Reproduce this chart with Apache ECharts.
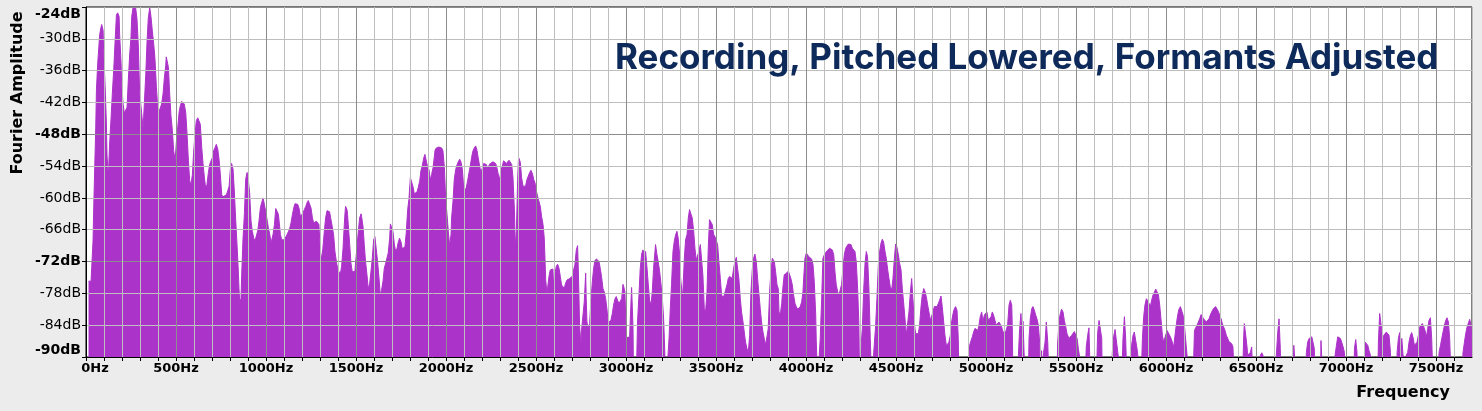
<!DOCTYPE html>
<html><head><meta charset="utf-8">
<script src="https://cdn.jsdelivr.net/npm/echarts@6/dist/echarts.min.js"></script>
<style>html,body{margin:0;padding:0;background:#ECECEC;}#c{width:1482px;height:411px;}</style>
</head><body><div id="c"></div>
<script>
// [frequency Hz, amplitude dB]; values below -90 dB fall outside the plot
const band0to1280 = [[14,-75.7],[28,-75.7],[32,-72.9],[39,-68.1],[43,-61.6],[54,-46.8],[58,-39.6],[65,-34.7],[72,-31.2],[76,-29.2],[83,-27.9],[87,-27.3],[95,-28.4],[98,-32.2],[106,-38.8],[113,-45.6],[117,-52.1],[124,-55.9],[132,-49.2],[139,-45.1],[146,-40.5],[154,-35.8],[161,-30.9],[169,-25.5],[176,-25.1],[184,-25.8],[187,-29.3],[195,-34.7],[198,-38.5],[206,-42.3],[213,-44.0],[221,-43.7],[228,-42.9],[235,-37.8],[243,-32.8],[250,-29.6],[254,-25.8],[261,-24.2],[269,-23.8],[276,-24.2],[283,-26.1],[291,-31.5],[298,-40.1],[309,-43.9],[317,-47.0],[324,-42.3],[332,-36.7],[339,-30.6],[346,-26.1],[354,-24.1],[361,-25.8],[369,-28.7],[376,-30.9],[383,-33.7],[391,-39.0],[398,-42.8],[406,-43.7],[413,-43.5],[420,-42.3],[428,-40.4],[435,-37.5],[443,-35.0],[446,-33.4],[450,-33.5],[458,-35.4],[465,-40.4],[472,-44.5],[480,-47.3],[487,-51.1],[495,-52.9],[502,-49.5],[509,-47.0],[517,-43.9],[524,-42.6],[532,-41.8],[539,-41.5],[546,-42.3],[554,-43.9],[561,-47.7],[569,-53.0],[576,-56.7],[583,-57.6],[591,-55.6],[598,-51.4],[606,-47.8],[613,-45.4],[621,-44.9],[628,-45.1],[635,-46.1],[643,-50.5],[650,-53.5],[658,-56.2],[665,-58.2],[672,-57.5],[680,-55.2],[687,-53.7],[695,-53.0],[702,-52.4],[709,-51.1],[717,-50.5],[724,-49.9],[732,-50.8],[739,-52.7],[746,-55.4],[754,-59.4],[761,-59.8],[772,-59.8],[780,-59.4],[787,-58.7],[795,-57.8],[802,-54.6],[809,-53.5],[817,-54.6],[824,-58.7],[832,-64.4],[839,-68.8],[846,-73.6],[850,-77.1],[854,-79.5],[861,-79.0],[865,-74.5],[872,-67.9],[880,-63.0],[887,-56.5],[895,-55.2],[902,-56.7],[909,-59.0],[917,-64.4],[924,-66.3],[932,-67.6],[939,-68.1],[947,-67.8],[954,-66.2],[961,-64.4],[969,-61.8],[976,-60.9],[984,-60.0],[991,-60.1],[998,-62.5],[1006,-64.1],[1013,-65.6],[1021,-66.9],[1028,-68.5],[1032,-68.7],[1039,-66.9],[1047,-65.0],[1054,-62.0],[1061,-62.2],[1069,-63.1],[1072,-64.1],[1080,-66.9],[1087,-67.9],[1095,-68.2],[1102,-67.9],[1109,-67.6],[1117,-66.9],[1124,-66.4],[1132,-65.7],[1139,-64.7],[1147,-63.1],[1154,-61.9],[1161,-61.1],[1169,-60.9],[1176,-61.2],[1184,-62.0],[1191,-63.5],[1198,-63.7],[1206,-62.8],[1213,-62.2],[1221,-61.6],[1228,-60.9],[1235,-60.5],[1243,-60.6],[1250,-61.9],[1258,-63.8],[1265,-64.7],[1272,-65.0]];
const band1280to2565 = [[1280,-64.4],[1287,-64.3],[1294,-65.0],[1302,-70.1],[1309,-71.5],[1316,-69.5],[1324,-66.3],[1331,-63.8],[1339,-62.4],[1346,-62.2],[1353,-62.6],[1361,-64.1],[1368,-65.4],[1376,-67.1],[1383,-70.1],[1391,-72.0],[1398,-73.3],[1405,-73.9],[1413,-74.4],[1420,-72.9],[1428,-69.5],[1435,-65.0],[1439,-62.8],[1442,-61.6],[1450,-62.2],[1453,-63.1],[1457,-65.0],[1465,-68.8],[1472,-72.3],[1479,-73.9],[1487,-74.2],[1494,-73.9],[1498,-72.0],[1505,-69.5],[1513,-66.3],[1520,-63.8],[1528,-63.0],[1531,-63.5],[1539,-65.4],[1546,-68.8],[1553,-72.0],[1561,-74.5],[1568,-77.2],[1576,-76.1],[1583,-73.9],[1591,-71.2],[1594,-69.8],[1598,-67.9],[1605,-67.3],[1613,-67.6],[1620,-72.0],[1628,-75.2],[1635,-78.3],[1642,-77.4],[1650,-75.7],[1657,-73.3],[1665,-72.3],[1672,-72.0],[1679,-70.4],[1687,-67.6],[1691,-64.9],[1698,-64.7],[1705,-66.3],[1713,-68.7],[1720,-70.1],[1728,-69.5],[1735,-68.3],[1742,-67.6],[1750,-68.3],[1757,-69.6],[1765,-69.8],[1772,-69.2],[1779,-66.6],[1787,-62.2],[1794,-60.3],[1802,-56.2],[1809,-56.1],[1816,-57.8],[1824,-59.2],[1831,-59.4],[1839,-58.9],[1846,-58.0],[1854,-56.8],[1861,-54.8],[1868,-54.0],[1876,-52.5],[1883,-51.8],[1891,-51.6],[1898,-54.2],[1905,-54.6],[1913,-56.6],[1920,-55.6],[1928,-54.3],[1935,-52.3],[1939,-51.0],[1946,-50.6],[1953,-50.6],[1961,-50.4],[1968,-50.4],[1976,-50.6],[1983,-51.1],[1991,-54.3],[1998,-59.9],[2005,-60.0],[2013,-66.3],[2020,-69.0],[2028,-66.9],[2031,-63.8],[2039,-60.6],[2046,-56.5],[2054,-54.6],[2061,-53.8],[2068,-53.2],[2076,-52.7],[2083,-53.2],[2091,-54.6],[2098,-58.0],[2105,-58.7],[2113,-58.0],[2120,-56.8],[2128,-55.2],[2135,-54.0],[2142,-52.4],[2150,-51.1],[2157,-50.6],[2165,-50.2],[2172,-51.0],[2179,-52.5],[2187,-54.0],[2194,-55.2],[2202,-54.3],[2209,-53.5],[2217,-53.2],[2224,-53.7],[2231,-54.3],[2239,-54.0],[2246,-53.5],[2254,-53.2],[2261,-53.2],[2268,-53.3],[2276,-53.5],[2283,-54.3],[2291,-55.7],[2298,-56.5],[2305,-54.8],[2313,-54.0],[2320,-53.0],[2328,-52.7],[2335,-53.5],[2342,-53.2],[2350,-52.9],[2357,-52.7],[2365,-53.7],[2372,-56.1],[2380,-62.2],[2383,-66.3],[2387,-69.5],[2391,-66.3],[2398,-56.7],[2402,-53.0],[2405,-52.5],[2413,-53.3],[2420,-56.2],[2428,-57.8],[2435,-58.0],[2442,-57.8],[2450,-56.5],[2457,-55.9],[2465,-55.2],[2472,-54.8],[2480,-55.4],[2487,-56.5],[2494,-57.1],[2502,-58.7],[2509,-59.7],[2516,-60.6],[2524,-61.6],[2531,-63.5],[2539,-65.0],[2546,-67.6],[2554,-75.5],[2561,-78.0]];
const band2565to3845 = [[2565,-78.0],[2572,-74.8],[2579,-73.6],[2587,-73.4],[2594,-73.4],[2598,-76.4],[2605,-74.2],[2613,-72.9],[2620,-72.5],[2628,-73.3],[2635,-74.8],[2642,-76.4],[2650,-76.4],[2657,-77.1],[2664,-76.1],[2672,-75.5],[2679,-75.2],[2687,-75.2],[2694,-75.2],[2701,-74.8],[2709,-73.6],[2716,-72.6],[2724,-69.8],[2731,-69.0],[2735,-73.3],[2739,-79.0],[2742,-84.0],[2750,-87.8],[2753,-85.0],[2761,-85.0],[2768,-79.6],[2772,-76.9],[2776,-74.2],[2779,-79.0],[2783,-83.4],[2790,-84.5],[2798,-83.7],[2805,-79.5],[2813,-75.8],[2820,-73.3],[2827,-71.9],[2835,-71.5],[2842,-71.5],[2850,-72.0],[2857,-73.3],[2864,-74.8],[2872,-77.1],[2879,-77.7],[2887,-79.0],[2894,-80.9],[2901,-83.5],[2909,-83.7],[2916,-83.1],[2924,-81.8],[2931,-80.2],[2939,-79.0],[2946,-78.6],[2953,-79.3],[2961,-79.9],[2968,-80.2],[2976,-79.0],[2983,-76.3],[2987,-76.7],[2994,-77.7],[3002,-86.4],[3009,-86.2],[3020,-86.2],[3027,-80.2],[3031,-76.9],[3035,-80.5],[3039,-84.6],[3042,-95],[3057,-95],[3064,-83.4],[3072,-78.3],[3079,-73.3],[3087,-70.6],[3094,-69.8],[3102,-70.6],[3109,-70.1],[3116,-72.9],[3124,-76.4],[3131,-79.3],[3139,-80.1],[3146,-77.7],[3153,-73.3],[3161,-70.1],[3164,-68.8],[3172,-70.7],[3179,-72.0],[3187,-73.9],[3194,-76.1],[3202,-79.0],[3209,-82.8],[3213,-86.5],[3216,-89.7],[3224,-95],[3231,-95],[3239,-86.5],[3246,-80.9],[3253,-76.3],[3261,-70.1],[3268,-68.2],[3276,-66.9],[3283,-66.3],[3290,-67.6],[3298,-70.7],[3302,-74.4],[3305,-75.8],[3313,-78.3],[3316,-77.7],[3324,-71.4],[3331,-67.9],[3339,-66.9],[3346,-63.8],[3353,-62.2],[3361,-62.0],[3368,-63.8],[3376,-66.3],[3383,-69.5],[3390,-71.7],[3398,-71.4],[3405,-70.1],[3413,-68.8],[3420,-68.7],[3427,-74.5],[3435,-80.9],[3442,-81.5],[3450,-77.7],[3457,-69.5],[3464,-64.1],[3472,-63.8],[3479,-65.0],[3487,-66.9],[3494,-67.3],[3502,-67.1],[3509,-68.8],[3516,-72.0],[3524,-75.2],[3531,-78.3],[3539,-78.8],[3546,-78.3],[3553,-77.4],[3561,-76.4],[3568,-75.2],[3576,-74.8],[3583,-74.8],[3590,-75.2],[3598,-73.3],[3605,-72.0],[3613,-71.2],[3620,-73.3],[3627,-75.2],[3635,-79.0],[3642,-81.5],[3650,-83.4],[3657,-85.3],[3664,-87.2],[3672,-88.4],[3679,-89.2],[3687,-85.9],[3694,-77.7],[3702,-73.3],[3709,-71.4],[3716,-70.6],[3724,-72.0],[3731,-75.2],[3739,-78.3],[3746,-80.9],[3753,-83.4],[3761,-85.3],[3768,-86.5],[3776,-87.7],[3783,-87.9],[3790,-84.7],[3798,-77.7],[3805,-73.9],[3813,-71.4],[3816,-71.2],[3824,-72.0],[3831,-73.9],[3839,-76.4]];
const band3845to5120 = [[3846,-77.1],[3850,-81.5],[3857,-82.1],[3865,-79.9],[3872,-76.7],[3879,-74.5],[3891,-74.2],[3902,-73.8],[3909,-73.9],[3916,-75.2],[3924,-76.4],[3931,-78.3],[3939,-79.9],[3946,-80.5],[3954,-81.0],[3961,-81.0],[3968,-80.5],[3976,-79.6],[3983,-77.7],[3987,-75.2],[3994,-71.4],[4002,-70.4],[4009,-70.6],[4016,-71.1],[4024,-71.4],[4031,-71.5],[4039,-72.6],[4046,-75.8],[4054,-82.1],[4057,-86.9],[4065,-95],[4072,-95],[4079,-86.5],[4087,-79.0],[4094,-71.4],[4102,-70.7],[4109,-70.4],[4116,-70.0],[4124,-69.8],[4131,-69.5],[4139,-69.2],[4146,-69.8],[4154,-70.7],[4161,-73.9],[4168,-76.4],[4176,-77.7],[4183,-78.3],[4191,-78.3],[4198,-76.3],[4205,-73.3],[4213,-70.7],[4220,-69.5],[4228,-69.2],[4235,-68.7],[4242,-68.5],[4250,-68.8],[4257,-69.5],[4265,-69.8],[4272,-70.1],[4279,-72.0],[4287,-77.1],[4294,-84.0],[4298,-95],[4305,-88.4],[4313,-84.6],[4320,-77.7],[4328,-72.3],[4335,-70.1],[4342,-71.1],[4350,-77.4],[4357,-86.5],[4365,-95],[4372,-95],[4379,-87.8],[4387,-84.0],[4394,-79.0],[4402,-72.6],[4409,-70.1],[4417,-68.5],[4424,-67.8],[4431,-68.3],[4439,-70.1],[4446,-71.4],[4454,-73.6],[4461,-75.2],[4468,-76.7],[4476,-77.4],[4483,-75.2],[4491,-71.4],[4498,-68.7],[4505,-69.3],[4513,-70.7],[4520,-72.3],[4528,-73.6],[4535,-77.1],[4542,-79.6],[4550,-82.8],[4557,-85.9],[4565,-85.9],[4572,-81.5],[4580,-77.7],[4587,-75.2],[4594,-79.0],[4602,-83.7],[4609,-85.6],[4617,-85.8],[4624,-85.6],[4631,-84.0],[4639,-80.5],[4646,-78.3],[4654,-77.1],[4661,-77.6],[4668,-78.6],[4676,-80.2],[4683,-81.5],[4691,-83.1],[4698,-83.4],[4705,-81.5],[4713,-80.5],[4720,-80.4],[4728,-80.5],[4735,-79.9],[4742,-79.3],[4750,-78.5],[4757,-80.5],[4765,-83.4],[4772,-85.9],[4780,-87.9],[4787,-88.1],[4794,-87.2],[4802,-85.9],[4809,-83.4],[4817,-81.8],[4824,-80.9],[4831,-80.5],[4839,-81.2],[4846,-86.5],[4850,-95],[4902,-95],[4909,-87.8],[4917,-86.9],[4924,-86.2],[4931,-85.3],[4939,-84.6],[4946,-84.5],[4954,-85.0],[4961,-84.0],[4968,-82.4],[4976,-81.5],[4983,-83.3],[4991,-82.1],[4998,-82.0],[5005,-81.5],[5013,-83.1],[5020,-83.4],[5028,-82.4],[5035,-81.5],[5042,-82.1],[5050,-83.1],[5057,-84.0],[5065,-83.9],[5072,-83.4],[5079,-83.1],[5087,-84.3],[5094,-85.3],[5102,-85.6],[5109,-85.3],[5116,-85.6]];
const band5120to6380 = [[5120,-84.0],[5128,-80.2],[5135,-79.3],[5143,-80.2],[5146,-84.3],[5150,-95],[5176,-95],[5180,-89.7],[5187,-84.6],[5194,-81.8],[5198,-84.3],[5206,-83.3],[5209,-86.5],[5217,-95],[5235,-95],[5239,-86.5],[5246,-82.8],[5254,-80.9],[5261,-80.5],[5269,-81.2],[5276,-82.1],[5283,-82.8],[5291,-84.0],[5298,-87.2],[5302,-95],[5309,-88.8],[5313,-95],[5320,-89.1],[5328,-87.2],[5335,-83.4],[5343,-87.2],[5350,-95],[5394,-95],[5398,-87.5],[5406,-83.1],[5413,-81.8],[5420,-81.0],[5428,-81.5],[5435,-83.1],[5443,-84.3],[5450,-85.6],[5461,-86.5],[5469,-86.5],[5476,-85.9],[5483,-85.6],[5491,-85.2],[5498,-85.0],[5506,-86.5],[5513,-88.4],[5520,-90.0],[5528,-95],[5550,-95],[5557,-88.1],[5565,-85.9],[5572,-84.5],[5580,-95],[5613,-95],[5620,-85.6],[5628,-83.1],[5635,-82.9],[5643,-86.5],[5646,-95],[5694,-95],[5702,-89.1],[5709,-86.2],[5717,-84.8],[5724,-84.5],[5732,-89.1],[5754,-95],[5761,-86.5],[5769,-82.4],[5776,-86.5],[5783,-95],[5802,-95],[5809,-87.8],[5817,-85.9],[5824,-85.3],[5832,-85.6],[5839,-88.4],[5861,-95],[5869,-86.5],[5876,-82.4],[5883,-80.2],[5891,-79.0],[5898,-79.3],[5906,-79.9],[5913,-80.5],[5920,-79.3],[5928,-78.3],[5935,-77.8],[5943,-77.2],[5950,-77.7],[5958,-78.3],[5965,-80.2],[5972,-82.8],[5980,-85.9],[5987,-87.2],[5998,-86.9],[6006,-85.0],[6013,-85.3],[6020,-85.9],[6028,-86.5],[6035,-87.2],[6043,-88.1],[6050,-85.9],[6058,-83.7],[6065,-82.1],[6072,-81.0],[6080,-80.5],[6087,-80.5],[6095,-82.1],[6102,-84.0],[6109,-84.0],[6117,-89.7],[6124,-95],[6150,-95],[6158,-85.0],[6165,-84.5],[6172,-84.0],[6180,-83.4],[6187,-82.8],[6195,-82.0],[6202,-82.1],[6209,-82.8],[6217,-83.1],[6224,-83.4],[6232,-83.3],[6239,-82.8],[6246,-82.1],[6254,-81.5],[6261,-81.0],[6269,-80.7],[6276,-80.5],[6283,-80.7],[6291,-81.4],[6298,-82.1],[6306,-82.8],[6313,-83.7],[6320,-84.3],[6328,-85.0],[6335,-85.9],[6343,-86.5],[6350,-87.1],[6358,-87.2],[6365,-87.5],[6372,-88.1],[6380,-95]];
const band6380to7710 = [[6424,-95],[6432,-85.9],[6435,-83.7],[6439,-83.7],[6443,-85.9],[6450,-88.1],[6454,-89.7],[6461,-90.0],[6469,-89.1],[6476,-88.1],[6480,-87.8],[6484,-95],[6521,-95],[6524,-89.7],[6532,-89.2],[6539,-89.7],[6547,-95],[6610,-95],[6613,-89.7],[6621,-85.3],[6628,-82.8],[6635,-88.4],[6639,-95],[6706,-95],[6710,-87.8],[6717,-88.1],[6724,-95],[6776,-95],[6780,-89.1],[6787,-87.2],[6795,-86.5],[6802,-86.4],[6810,-86.2],[6817,-86.4],[6824,-88.4],[6828,-95],[6858,-95],[6861,-86.9],[6868,-86.9],[6872,-95],[6935,-95],[6939,-89.7],[6947,-87.8],[6954,-86.2],[6961,-86.0],[6969,-86.5],[6976,-87.2],[6984,-88.1],[6991,-89.1],[6998,-95],[7043,-95],[7047,-88.4],[7054,-86.7],[7061,-89.1],[7065,-95],[7102,-95],[7106,-87.2],[7113,-87.3],[7121,-87.8],[7128,-88.8],[7136,-89.7],[7143,-95],[7176,-95],[7180,-87.2],[7187,-81.8],[7195,-82.1],[7202,-85.9],[7206,-86.5],[7210,-85.9],[7217,-85.6],[7224,-85.3],[7232,-85.2],[7239,-85.9],[7247,-89.1],[7250,-95],[7280,-95],[7284,-89.1],[7291,-86.5],[7298,-85.4],[7306,-87.8],[7310,-86.5],[7317,-89.7],[7328,-90.2],[7336,-90.0],[7343,-89.1],[7350,-87.2],[7358,-85.9],[7365,-85.4],[7373,-86.4],[7380,-87.8],[7387,-87.9],[7395,-87.2],[7402,-85.9],[7410,-84.3],[7417,-84.0],[7424,-83.7],[7432,-84.3],[7439,-85.0],[7447,-86.2],[7454,-84.6],[7461,-83.1],[7469,-82.6],[7476,-86.5],[7484,-95],[7510,-95],[7517,-89.1],[7525,-87.8],[7532,-86.5],[7539,-85.3],[7547,-84.0],[7554,-83.1],[7561,-82.6],[7569,-83.4],[7576,-86.5],[7584,-95],[7643,-95],[7650,-89.1],[7658,-87.2],[7665,-85.6],[7673,-84.3],[7680,-84.0],[7687,-82.9],[7695,-84.0],[7702,-89.1],[7710,-89.7]];

const boldDbTicks = [-24, -48, -72, -90];
const chartTitle = 'Recording, Pitched Lowered, Formants Adjusted';
const xAxisName = 'Frequency';
const yAxisName = 'Fourier Amplitude';

const spectrum = [].concat(band0to1280, band1280to2565, band2565to3845, band3845to5120, band5120to6380, band6380to7710);

const chart = echarts.init(document.getElementById('c'), null, {renderer: 'canvas'});
const FILL = '#AC33C9';
chart.setOption({
  animation: false,
  backgroundColor: '#ECECEC',
  grid: {left: 86, top: 7, width: 1386, height: 350, show: true, backgroundColor: '#FFFFFF', borderColor: '#000000', borderWidth: 1, containLabel: false},
  xAxis: {
    type: 'value', min: 0, max: 7700, interval: 100, z: 3,
    axisLine: {show: true, onZero: false, lineStyle: {color: '#000', width: 1}},
    axisTick: {show: true, length: 4, lineStyle: {color: '#000'}},
    splitLine: {show: true, lineStyle: {color: ['#8c8c8c', '#bebebe', '#bebebe', '#bebebe', '#bebebe'], width: 1}},
    axisLabel: {
      margin: 5, color: '#000', fontFamily: 'DejaVu Sans', fontWeight: 'bold', fontSize: 13,
      formatter: v => (v === 0 ? '{z|0Hz}' : (v % 500 === 0 ? v + 'Hz' : '')),
      rich: {z: {fontFamily: 'DejaVu Sans', fontWeight: 'bold', fontSize: 13, color: '#000', padding: [0, 0, 0, 18]}},
      showMaxLabel: false, hideOverlap: false, interval: 0
    }
  },
  yAxis: {
    type: 'value', min: -90, max: -24, interval: 6, z: 3,
    axisLine: {show: true, onZero: false, lineStyle: {color: '#000', width: 1}},
    axisTick: {show: true, length: 4, lineStyle: {color: '#000'}},
    splitLine: {show: true, lineStyle: {color: ['#bebebe', '#bebebe', '#bebebe', '#8c8c8c'], width: 1}},
    axisLabel: {
      margin: 5, color: '#000', fontFamily: 'DejaVu Sans', fontSize: 14,
      verticalAlignMinLabel: 'bottom', verticalAlignMaxLabel: 'top',
      formatter: v => (boldDbTicks.indexOf(v) >= 0 ? '{b|' + v + 'dB}' : '{n|' + v + 'dB}'),
      rich: {
        b: {fontFamily: 'DejaVu Sans', fontWeight: 'bold', fontSize: 14, color: '#000'},
        n: {fontFamily: 'DejaVu Sans', fontWeight: 'normal', fontSize: 14, color: '#000'}
      }
    }
  },
  graphic: [
    {type: 'text', x: 615, y: 58, z: 10, style: {text: chartTitle, fill: '#0D2A5A', font: 'bold 35px Inter', textAlign: 'left', textVerticalAlign: 'middle'}},
    {type: 'text', x: 1450, y: 393, z: 10, style: {text: xAxisName, fill: '#000', font: 'bold 16px "DejaVu Sans"', textAlign: 'right', textVerticalAlign: 'middle'}},
    {type: 'text', x: 18, y: 93, rotation: Math.PI / 2, z: 10, style: {text: yAxisName, fill: '#000', font: 'bold 16px "DejaVu Sans"', textAlign: 'center', textVerticalAlign: 'middle'}}
  ],
  series: [{
    type: 'line', data: spectrum, showSymbol: false, symbol: 'none', silent: true, clip: true, z: 2,
    lineStyle: {width: 1, color: FILL},
    areaStyle: {color: FILL, opacity: 1, origin: 'start'}
  }]
});
</script>
</body></html>
